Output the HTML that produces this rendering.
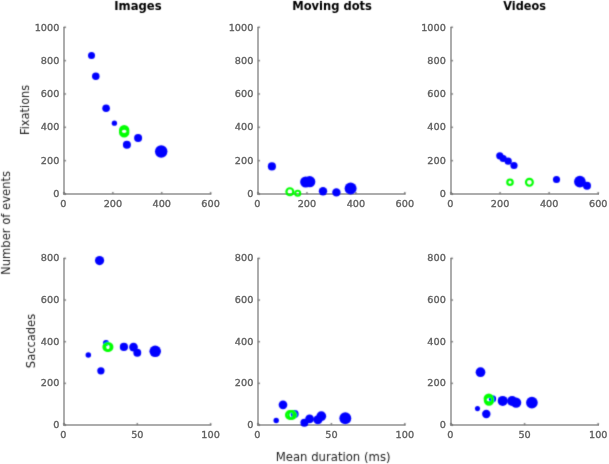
<!DOCTYPE html>
<html><head><meta charset="utf-8"><style>
html,body{margin:0;padding:0;background:#fff;}
svg{display:block;}

.t{font-family:"DejaVu Sans",sans-serif;font-size:8.5px;fill:#5e5e5e;stroke:#5e5e5e;stroke-width:0.3px;}
.l{font-family:"DejaVu Sans",sans-serif;font-size:11.6px;fill:#262626;}
.ti{font-family:"DejaVu Sans",sans-serif;font-size:11.6px;font-weight:bold;fill:#000;}
</style></head><body>
<svg width="609" height="464" viewBox="0 0 609 464">
<rect width="609" height="464" fill="#fff"/>
<g><path d="M64.00 26.70V194.00H211.40" fill="none" stroke="#acacac" stroke-width="2.0" stroke-linejoin="miter"/>
<path d="M258.00 26.70V194.00H405.60" fill="none" stroke="#acacac" stroke-width="2.0" stroke-linejoin="miter"/>
<path d="M451.00 26.70V194.00H599.00" fill="none" stroke="#acacac" stroke-width="2.0" stroke-linejoin="miter"/>
<path d="M64.00 257.80V425.00H211.40" fill="none" stroke="#acacac" stroke-width="2.0" stroke-linejoin="miter"/>
<path d="M258.00 257.80V425.00H405.60" fill="none" stroke="#acacac" stroke-width="2.0" stroke-linejoin="miter"/>
<path d="M451.00 257.80V425.00H599.00" fill="none" stroke="#acacac" stroke-width="2.0" stroke-linejoin="miter"/></g>
<g><text transform="matrix(1.14 0 0 1 63.20 206.80)" text-anchor="middle" class="t">0</text>
<text transform="matrix(1.14 0 0 1 112.87 206.80)" text-anchor="middle" class="t">200</text>
<text transform="matrix(1.14 0 0 1 161.73 206.80)" text-anchor="middle" class="t">400</text>
<text transform="matrix(1.14 0 0 1 210.60 206.80)" text-anchor="middle" class="t">600</text>
<text transform="matrix(1.14 0 0 1 59.30 197.30)" text-anchor="end" class="t">0</text>
<text transform="matrix(1.14 0 0 1 59.30 163.96)" text-anchor="end" class="t">200</text>
<text transform="matrix(1.14 0 0 1 59.30 129.97)" text-anchor="end" class="t">400</text>
<text transform="matrix(1.14 0 0 1 59.30 97.28)" text-anchor="end" class="t">600</text>
<text transform="matrix(1.14 0 0 1 59.30 63.94)" text-anchor="end" class="t">800</text>
<text transform="matrix(1.14 0 0 1 59.30 30.60)" text-anchor="end" class="t">1000</text>
<text transform="matrix(1.14 0 0 1 257.20 206.80)" text-anchor="middle" class="t">0</text>
<text transform="matrix(1.14 0 0 1 306.93 206.80)" text-anchor="middle" class="t">200</text>
<text transform="matrix(1.14 0 0 1 355.87 206.80)" text-anchor="middle" class="t">400</text>
<text transform="matrix(1.14 0 0 1 404.80 206.80)" text-anchor="middle" class="t">600</text>
<text transform="matrix(1.14 0 0 1 253.30 197.30)" text-anchor="end" class="t">0</text>
<text transform="matrix(1.14 0 0 1 253.30 163.96)" text-anchor="end" class="t">200</text>
<text transform="matrix(1.14 0 0 1 253.30 129.97)" text-anchor="end" class="t">400</text>
<text transform="matrix(1.14 0 0 1 253.30 97.28)" text-anchor="end" class="t">600</text>
<text transform="matrix(1.14 0 0 1 253.30 63.94)" text-anchor="end" class="t">800</text>
<text transform="matrix(1.14 0 0 1 253.30 30.60)" text-anchor="end" class="t">1000</text>
<text transform="matrix(1.14 0 0 1 450.20 206.80)" text-anchor="middle" class="t">0</text>
<text transform="matrix(1.14 0 0 1 500.07 206.80)" text-anchor="middle" class="t">200</text>
<text transform="matrix(1.14 0 0 1 549.13 206.80)" text-anchor="middle" class="t">400</text>
<text transform="matrix(1.14 0 0 1 598.20 206.80)" text-anchor="middle" class="t">600</text>
<text transform="matrix(1.14 0 0 1 445.80 197.30)" text-anchor="end" class="t">0</text>
<text transform="matrix(1.14 0 0 1 445.80 163.96)" text-anchor="end" class="t">200</text>
<text transform="matrix(1.14 0 0 1 445.80 129.97)" text-anchor="end" class="t">400</text>
<text transform="matrix(1.14 0 0 1 445.80 97.28)" text-anchor="end" class="t">600</text>
<text transform="matrix(1.14 0 0 1 445.80 63.94)" text-anchor="end" class="t">800</text>
<text transform="matrix(1.14 0 0 1 445.80 30.60)" text-anchor="end" class="t">1000</text>
<text transform="matrix(1.14 0 0 1 63.20 438.10)" text-anchor="middle" class="t">0</text>
<text transform="matrix(1.14 0 0 1 137.30 438.10)" text-anchor="middle" class="t">50</text>
<text transform="matrix(1.14 0 0 1 210.60 438.10)" text-anchor="middle" class="t">100</text>
<text transform="matrix(1.14 0 0 1 59.30 428.10)" text-anchor="end" class="t">0</text>
<text transform="matrix(1.14 0 0 1 59.30 386.30)" text-anchor="end" class="t">200</text>
<text transform="matrix(1.14 0 0 1 59.30 344.70)" text-anchor="end" class="t">400</text>
<text transform="matrix(1.14 0 0 1 59.30 303.35)" text-anchor="end" class="t">600</text>
<text transform="matrix(1.14 0 0 1 59.30 261.00)" text-anchor="end" class="t">800</text>
<text transform="matrix(1.14 0 0 1 257.20 438.10)" text-anchor="middle" class="t">0</text>
<text transform="matrix(1.14 0 0 1 331.40 438.10)" text-anchor="middle" class="t">50</text>
<text transform="matrix(1.14 0 0 1 404.80 438.10)" text-anchor="middle" class="t">100</text>
<text transform="matrix(1.14 0 0 1 253.30 428.10)" text-anchor="end" class="t">0</text>
<text transform="matrix(1.14 0 0 1 253.30 386.30)" text-anchor="end" class="t">200</text>
<text transform="matrix(1.14 0 0 1 253.30 344.70)" text-anchor="end" class="t">400</text>
<text transform="matrix(1.14 0 0 1 253.30 303.35)" text-anchor="end" class="t">600</text>
<text transform="matrix(1.14 0 0 1 253.30 261.00)" text-anchor="end" class="t">800</text>
<text transform="matrix(1.14 0 0 1 450.20 438.10)" text-anchor="middle" class="t">0</text>
<text transform="matrix(1.14 0 0 1 524.60 438.10)" text-anchor="middle" class="t">50</text>
<text transform="matrix(1.14 0 0 1 598.20 438.10)" text-anchor="middle" class="t">100</text>
<text transform="matrix(1.14 0 0 1 445.80 428.10)" text-anchor="end" class="t">0</text>
<text transform="matrix(1.14 0 0 1 445.80 386.30)" text-anchor="end" class="t">200</text>
<text transform="matrix(1.14 0 0 1 445.80 344.70)" text-anchor="end" class="t">400</text>
<text transform="matrix(1.14 0 0 1 445.80 303.35)" text-anchor="end" class="t">600</text>
<text transform="matrix(1.14 0 0 1 445.80 261.00)" text-anchor="end" class="t">800</text></g>
<defs><filter id="b" x="0" y="0" width="609" height="464" filterUnits="userSpaceOnUse"><feConvolveMatrix order="3" kernelMatrix="1 4 1 4 16 4 1 4 1" divisor="36" edgeMode="none" preserveAlpha="false"/></filter></defs>
<g filter="url(#b)"><rect x="63.25" y="192.10" width="1.5" height="1.6" fill="#666"/>
<rect x="112.12" y="192.10" width="1.5" height="1.6" fill="#666"/>
<rect x="160.98" y="192.10" width="1.5" height="1.6" fill="#666"/>
<rect x="209.85" y="192.10" width="1.5" height="1.6" fill="#666"/>
<rect x="64.30" y="193.25" width="1.6" height="1.5" fill="#666"/>
<rect x="64.30" y="159.91" width="1.6" height="1.5" fill="#666"/>
<rect x="64.30" y="126.57" width="1.6" height="1.5" fill="#666"/>
<rect x="64.30" y="93.23" width="1.6" height="1.5" fill="#666"/>
<rect x="64.30" y="59.89" width="1.6" height="1.5" fill="#666"/>
<rect x="64.30" y="26.55" width="1.6" height="1.5" fill="#666"/>
<rect x="257.25" y="192.10" width="1.5" height="1.6" fill="#666"/>
<rect x="306.18" y="192.10" width="1.5" height="1.6" fill="#666"/>
<rect x="355.12" y="192.10" width="1.5" height="1.6" fill="#666"/>
<rect x="404.05" y="192.10" width="1.5" height="1.6" fill="#666"/>
<rect x="258.30" y="193.25" width="1.6" height="1.5" fill="#666"/>
<rect x="258.30" y="159.91" width="1.6" height="1.5" fill="#666"/>
<rect x="258.30" y="126.57" width="1.6" height="1.5" fill="#666"/>
<rect x="258.30" y="93.23" width="1.6" height="1.5" fill="#666"/>
<rect x="258.30" y="59.89" width="1.6" height="1.5" fill="#666"/>
<rect x="258.30" y="26.55" width="1.6" height="1.5" fill="#666"/>
<rect x="450.25" y="192.10" width="1.5" height="1.6" fill="#666"/>
<rect x="499.32" y="192.10" width="1.5" height="1.6" fill="#666"/>
<rect x="548.38" y="192.10" width="1.5" height="1.6" fill="#666"/>
<rect x="597.45" y="192.10" width="1.5" height="1.6" fill="#666"/>
<rect x="451.30" y="193.25" width="1.6" height="1.5" fill="#666"/>
<rect x="451.30" y="159.91" width="1.6" height="1.5" fill="#666"/>
<rect x="451.30" y="126.57" width="1.6" height="1.5" fill="#666"/>
<rect x="451.30" y="93.23" width="1.6" height="1.5" fill="#666"/>
<rect x="451.30" y="59.89" width="1.6" height="1.5" fill="#666"/>
<rect x="451.30" y="26.55" width="1.6" height="1.5" fill="#666"/>
<rect x="63.25" y="423.10" width="1.5" height="1.6" fill="#666"/>
<rect x="136.55" y="423.10" width="1.5" height="1.6" fill="#666"/>
<rect x="209.85" y="423.10" width="1.5" height="1.6" fill="#666"/>
<rect x="64.30" y="424.25" width="1.6" height="1.5" fill="#666"/>
<rect x="64.30" y="382.60" width="1.6" height="1.5" fill="#666"/>
<rect x="64.30" y="340.95" width="1.6" height="1.5" fill="#666"/>
<rect x="64.30" y="299.30" width="1.6" height="1.5" fill="#666"/>
<rect x="64.30" y="257.65" width="1.6" height="1.5" fill="#666"/>
<rect x="257.25" y="423.10" width="1.5" height="1.6" fill="#666"/>
<rect x="330.65" y="423.10" width="1.5" height="1.6" fill="#666"/>
<rect x="404.05" y="423.10" width="1.5" height="1.6" fill="#666"/>
<rect x="258.30" y="424.25" width="1.6" height="1.5" fill="#666"/>
<rect x="258.30" y="382.60" width="1.6" height="1.5" fill="#666"/>
<rect x="258.30" y="340.95" width="1.6" height="1.5" fill="#666"/>
<rect x="258.30" y="299.30" width="1.6" height="1.5" fill="#666"/>
<rect x="258.30" y="257.65" width="1.6" height="1.5" fill="#666"/>
<rect x="450.25" y="423.10" width="1.5" height="1.6" fill="#666"/>
<rect x="523.85" y="423.10" width="1.5" height="1.6" fill="#666"/>
<rect x="597.45" y="423.10" width="1.5" height="1.6" fill="#666"/>
<rect x="451.30" y="424.25" width="1.6" height="1.5" fill="#666"/>
<rect x="451.30" y="382.60" width="1.6" height="1.5" fill="#666"/>
<rect x="451.30" y="340.95" width="1.6" height="1.5" fill="#666"/>
<rect x="451.30" y="299.30" width="1.6" height="1.5" fill="#666"/>
<rect x="451.30" y="257.65" width="1.6" height="1.5" fill="#666"/>
<circle cx="91.5" cy="55.4" r="3.50" fill="#00f"/>
<circle cx="95.8" cy="76.3" r="3.75" fill="#00f"/>
<circle cx="106.1" cy="108.3" r="3.80" fill="#00f"/>
<circle cx="114.4" cy="123.2" r="2.65" fill="#00f"/>
<circle cx="138.1" cy="138" r="4.00" fill="#00f"/>
<circle cx="126.9" cy="144.7" r="4.00" fill="#00f"/>
<circle cx="161.2" cy="151.5" r="6.25" fill="#00f"/>
<circle cx="271.9" cy="166.4" r="4.05" fill="#00f"/>
<circle cx="305.7" cy="182" r="5.55" fill="#00f"/>
<circle cx="309.7" cy="181.7" r="5.65" fill="#00f"/>
<circle cx="323" cy="191.3" r="4.20" fill="#00f"/>
<circle cx="336.4" cy="192.4" r="4.20" fill="#00f"/>
<circle cx="350.6" cy="188.6" r="6.00" fill="#00f"/>
<circle cx="499.8" cy="155.8" r="3.60" fill="#00f"/>
<circle cx="503.2" cy="158.5" r="3.60" fill="#00f"/>
<circle cx="508.2" cy="161.2" r="3.60" fill="#00f"/>
<circle cx="514" cy="165.5" r="3.60" fill="#00f"/>
<circle cx="556.5" cy="179.5" r="3.55" fill="#00f"/>
<circle cx="579.9" cy="181.65" r="5.85" fill="#00f"/>
<circle cx="587" cy="185.7" r="4.00" fill="#00f"/>
<circle cx="99.55" cy="260.6" r="4.60" fill="#00f"/>
<circle cx="88.3" cy="355.1" r="2.75" fill="#00f"/>
<circle cx="106" cy="343" r="3.00" fill="#00f"/>
<circle cx="123.9" cy="346.9" r="4.10" fill="#00f"/>
<circle cx="133.5" cy="347.1" r="4.35" fill="#00f"/>
<circle cx="137.3" cy="352.8" r="3.95" fill="#00f"/>
<circle cx="155.2" cy="351.3" r="5.80" fill="#00f"/>
<circle cx="100.9" cy="370.8" r="3.65" fill="#00f"/>
<circle cx="283" cy="404.8" r="4.35" fill="#00f"/>
<circle cx="276.2" cy="420.5" r="2.70" fill="#00f"/>
<circle cx="294.6" cy="414" r="4.00" fill="#00f"/>
<circle cx="304.4" cy="422.8" r="4.00" fill="#00f"/>
<circle cx="309.6" cy="418.9" r="4.40" fill="#00f"/>
<circle cx="317.9" cy="419.7" r="4.55" fill="#00f"/>
<circle cx="321.3" cy="416.2" r="4.85" fill="#00f"/>
<circle cx="345.3" cy="418.3" r="5.95" fill="#00f"/>
<circle cx="480.5" cy="372.2" r="4.85" fill="#00f"/>
<circle cx="477.5" cy="408.6" r="2.55" fill="#00f"/>
<circle cx="486.3" cy="414" r="4.20" fill="#00f"/>
<circle cx="492.5" cy="398.8" r="3.65" fill="#00f"/>
<circle cx="502.7" cy="400.9" r="5.00" fill="#00f"/>
<circle cx="512.1" cy="401.0" r="5.05" fill="#00f"/>
<circle cx="516.1" cy="402.7" r="5.15" fill="#00f"/>
<circle cx="531.9" cy="402.7" r="5.85" fill="#00f"/>
<circle cx="124.2" cy="130.3" r="3.9" fill="none" stroke="#0f0" stroke-width="2.6"/>
<circle cx="124.2" cy="132.4" r="3.9" fill="none" stroke="#0f0" stroke-width="2.6"/>
<circle cx="289.85" cy="191.7" r="3.45" fill="none" stroke="#0f0" stroke-width="2.2"/>
<circle cx="297.7" cy="193.3" r="2.5" fill="none" stroke="#0f0" stroke-width="2.1"/>
<circle cx="510" cy="182.2" r="2.7" fill="none" stroke="#0f0" stroke-width="2.2"/>
<circle cx="529.4" cy="182.3" r="3.45" fill="none" stroke="#0f0" stroke-width="2.1"/>
<circle cx="107.35" cy="347.1" r="3.65" fill="none" stroke="#0f0" stroke-width="2.6"/>
<circle cx="108.5" cy="347.1" r="3.65" fill="none" stroke="#0f0" stroke-width="2.6"/>
<circle cx="289.9" cy="415" r="3.7" fill="none" stroke="#0f0" stroke-width="2.4"/>
<circle cx="292.1" cy="415" r="3.7" fill="none" stroke="#0f0" stroke-width="2.4"/>
<circle cx="488.8" cy="398.6" r="3.9" fill="none" stroke="#0f0" stroke-width="2.6"/>
<circle cx="489" cy="400.6" r="3.9" fill="none" stroke="#0f0" stroke-width="2.6"/></g>
<filter id="c" x="0" y="0" width="609" height="464" filterUnits="userSpaceOnUse"><feConvolveMatrix order="3" kernelMatrix="1 6 1 6 36 6 1 6 1" divisor="64" edgeMode="none" preserveAlpha="false"/></filter>
<g filter="url(#c)"><text x="137.90" y="9.7" text-anchor="middle" class="ti">Images</text>
<text x="332.10" y="9.7" text-anchor="middle" class="ti" textLength="79.7" lengthAdjust="spacingAndGlyphs">Moving dots</text>
<text x="524.60" y="9.7" text-anchor="middle" class="ti" textLength="42.6" lengthAdjust="spacingAndGlyphs">Videos</text>
<text transform="translate(28.8 109.9) rotate(-90) scale(1 1.07)" text-anchor="middle" class="l" textLength="50.2" lengthAdjust="spacingAndGlyphs">Fixations</text>
<text transform="translate(35.0 341) rotate(-90) scale(1 1.07)" text-anchor="middle" class="l" textLength="54.3" lengthAdjust="spacingAndGlyphs">Saccades</text>
<text transform="translate(10.2 222.9) rotate(-90) scale(1 1.07)" text-anchor="middle" class="l">Number of events</text>
<text transform="translate(333.1 460.7) scale(1 1.07)" text-anchor="middle" class="l" textLength="114.8" lengthAdjust="spacingAndGlyphs">Mean duration (ms)</text></g>
</svg>
</body></html>
